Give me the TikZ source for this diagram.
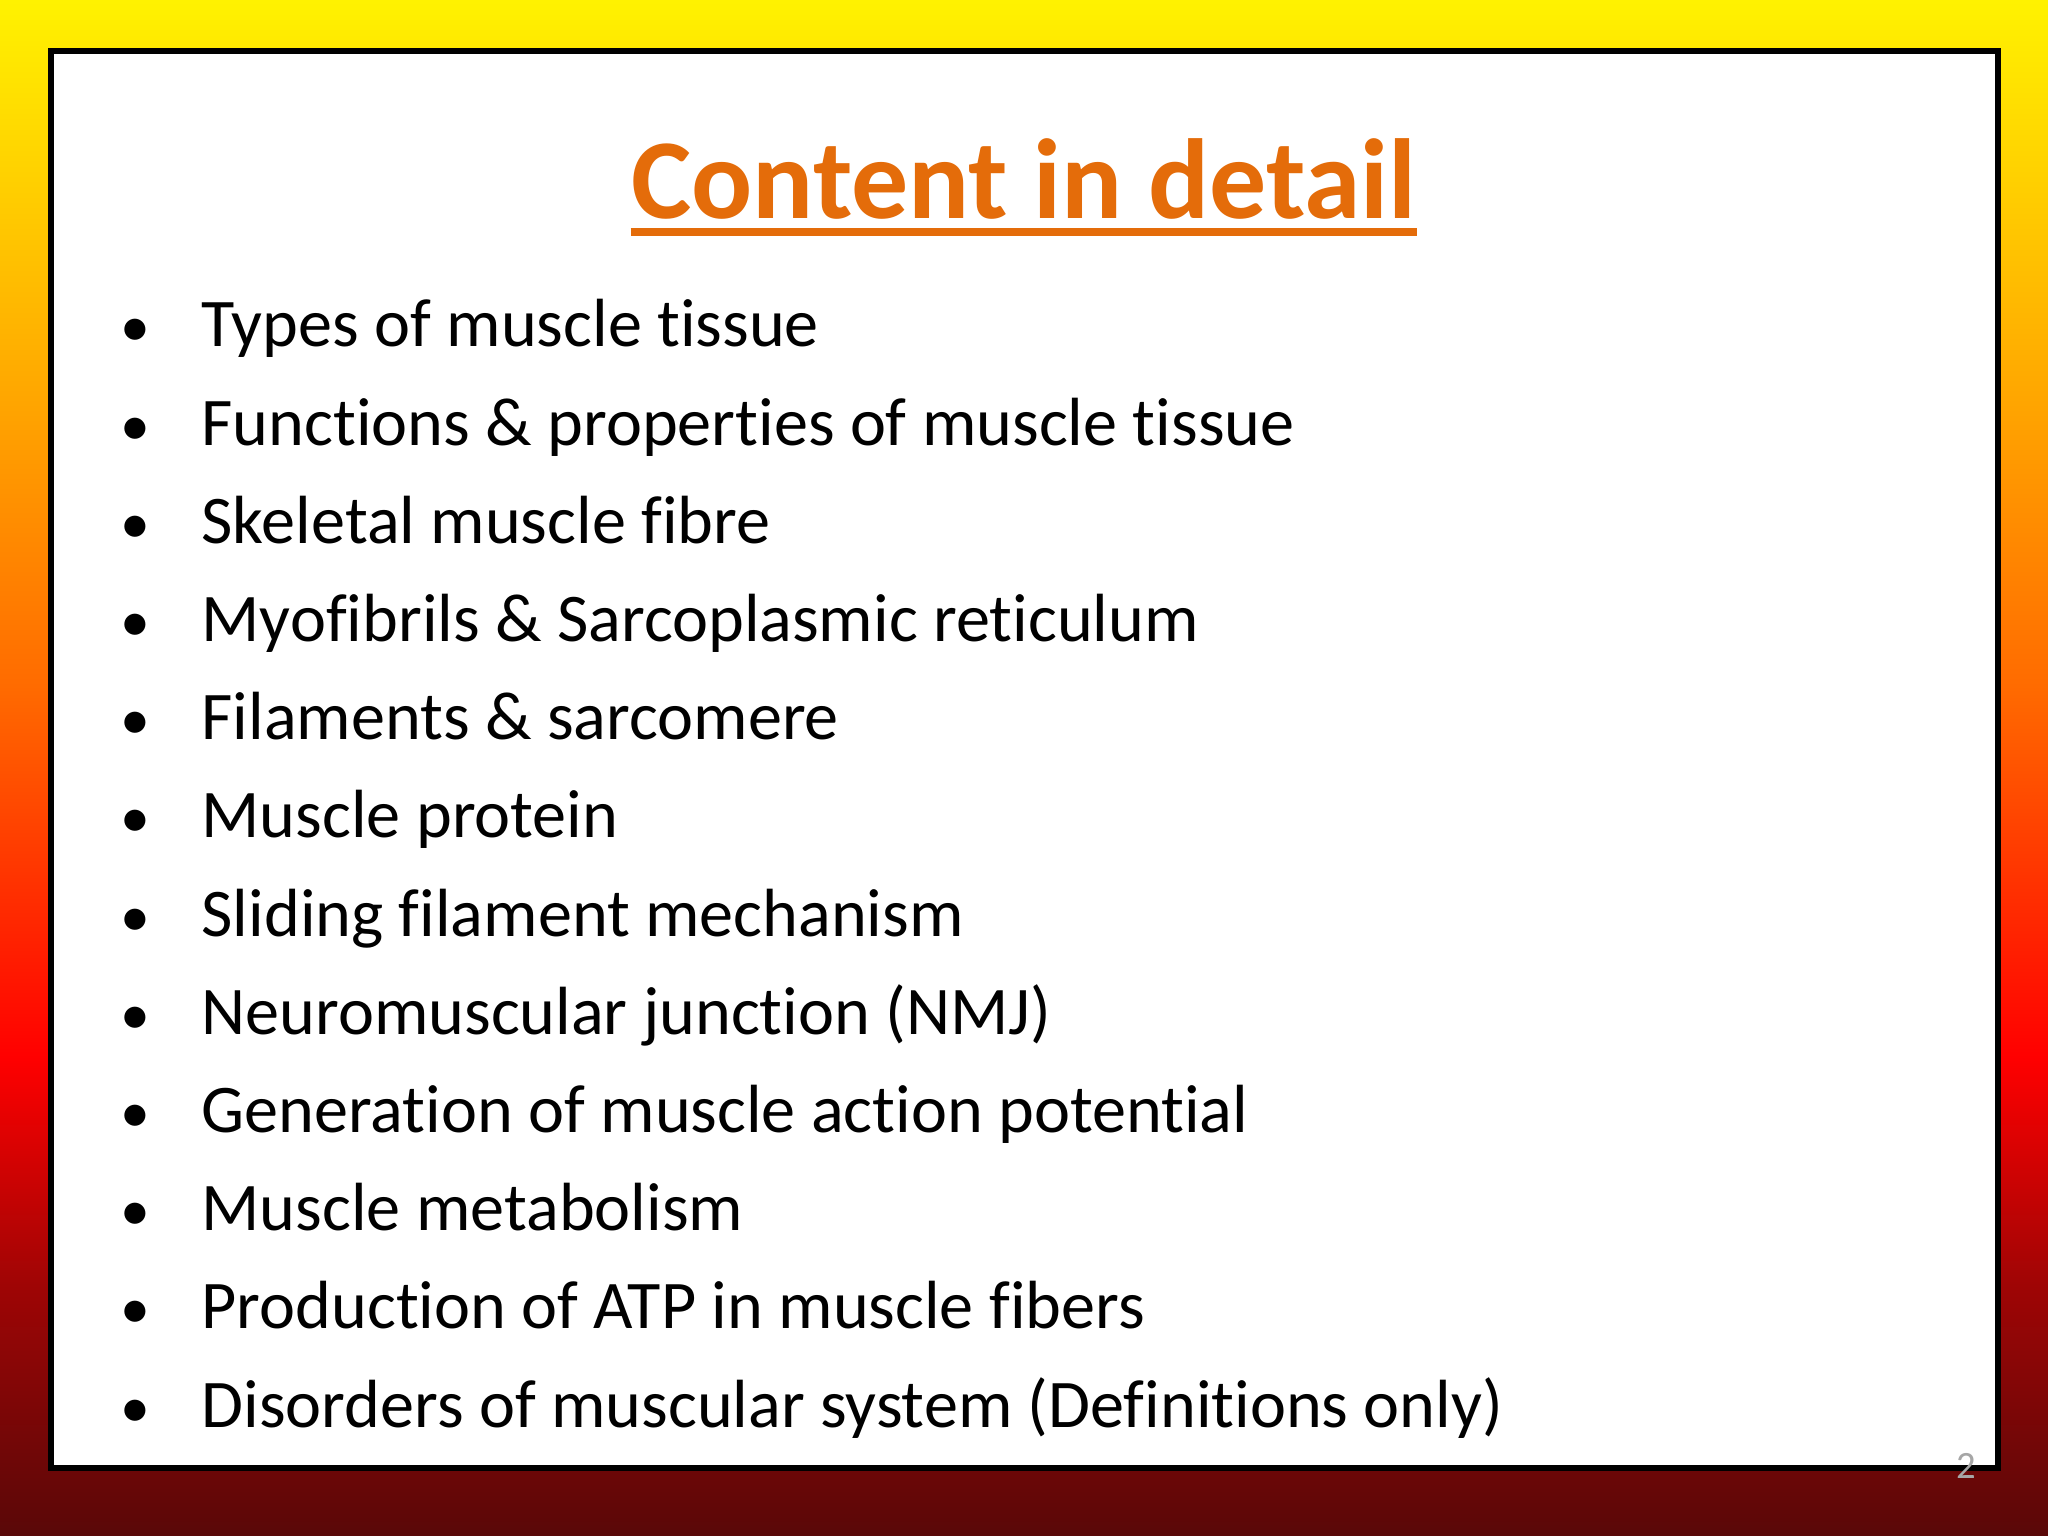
\documentclass[tikz,border=0pt]{standalone}
\usepackage{fontspec}
\setmainfont{Carlito}[Ligatures=NoCommon]
\definecolor{ttl}{RGB}{228,108,10}
\pgfdeclareverticalshading{bgshade}{100bp}{
rgb(0bp)=(0.35,0.03,0.03);
rgb(25bp)=(0.35,0.03,0.03);
rgb(33.1bp)=(0.62,0.02,0.02);
rgb(40.6bp)=(1,0,0);
rgb(52.7bp)=(1,0.42,0);
rgb(62.4bp)=(1,0.66,0);
rgb(75bp)=(1,0.95,0);
rgb(100bp)=(1,0.95,0)}
\tikzset{item/.style={anchor=base west,font=\fontsize{19.4pt}{22pt}\selectfont,inner sep=0pt},
bul/.style={anchor=base,font=\fontsize{17pt}{20pt}\selectfont,inner sep=0pt}}
\begin{document}
\begin{tikzpicture}
\useasboundingbox (0,0) rectangle (20.48,15.36);
\shade[shading=bgshade] (0,0) rectangle (20.48,15.36);
\draw[fill=white,line width=1.6pt] (0.51,0.68) rectangle (19.98,14.85);
\node[anchor=base,inner sep=0pt,text=ttl,font=\fontsize{32.4pt}{38pt}\selectfont\bfseries] (title) at (10.24,13.17) {Content in detail};
\draw[ttl,line width=2.2pt] ([yshift=-0.13cm]title.base west) -- ([yshift=-0.13cm]title.base east);
\foreach \t [count=\i from 0] in {Types of muscle tissue,Functions \& properties of muscle tissue,Skeletal muscle fibre,Myofibrils \& Sarcoplasmic reticulum,Filaments \& sarcomere,Muscle protein,Sliding filament mechanism,Neuromuscular junction (NMJ),Generation of muscle action potential,Muscle metabolism,Production of ATP in muscle fibers,Disorders of muscular system (Definitions only)}{
  \node[bul] (b\i) at (1.35,{15.36-3.47-\i*0.982}) {\textbullet};
  \node[item] (t\i) at (2.01,{15.36-3.47-\i*0.982}) {\t};
}
\node[text=gray!70,font=\fontsize{11pt}{12pt}\selectfont,inner sep=0pt] (pg) at (19.66,0.70) {2};
\end{tikzpicture}
\end{document}
